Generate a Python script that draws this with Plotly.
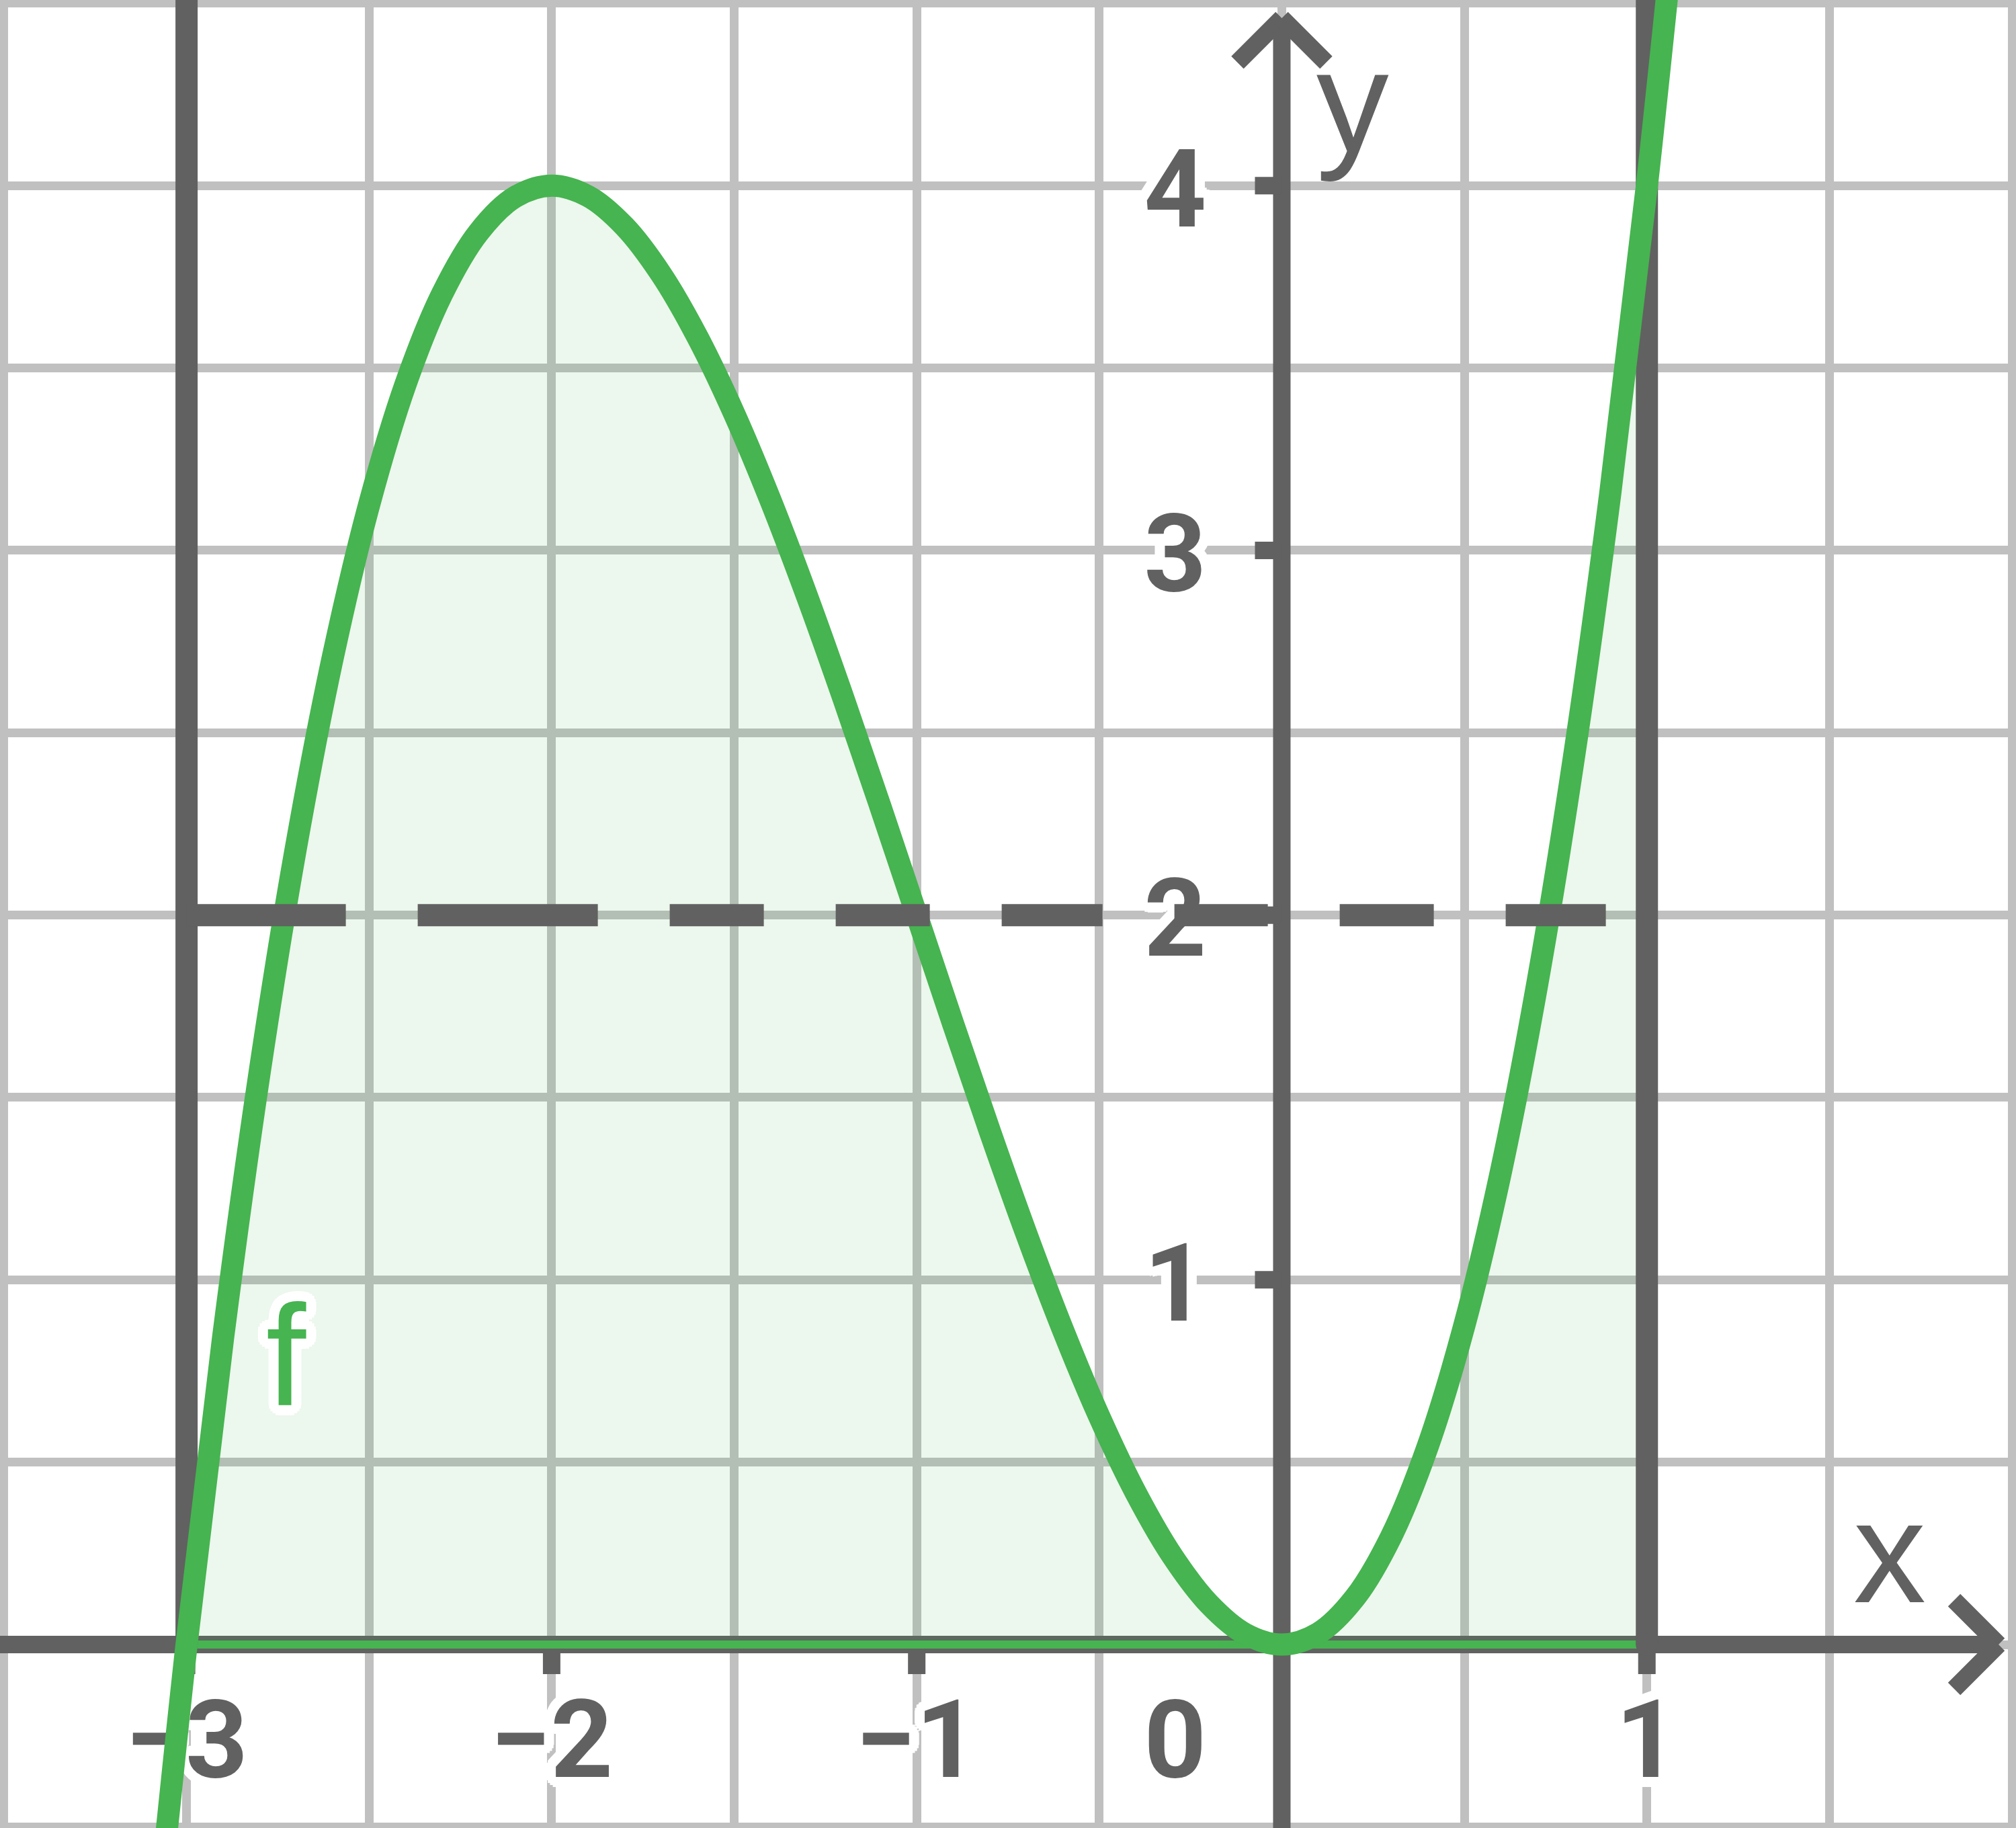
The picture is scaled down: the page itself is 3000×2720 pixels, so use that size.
import math
import plotly.graph_objects as go

# ---------------- data ----------------
CURVE_X = [-3.1, -3.0, -2.9, -2.8, -2.7, -2.6, -2.5, -2.4, -2.3, -2.2, -2.1,
           -2.0, -1.9, -1.8, -1.7, -1.6, -1.5, -1.4, -1.3, -1.2, -1.1,
           -1.0, -0.9, -0.8, -0.7, -0.6, -0.5, -0.4, -0.3, -0.2, -0.1,
           0.0, 0.1, 0.2, 0.3, 0.4, 0.5, 0.6, 0.7, 0.8, 0.9, 1.0, 1.1]
CURVE_Y = [-0.961, 0.0, 0.841, 1.568, 2.187, 2.704, 3.125, 3.456, 3.703, 3.872, 3.969,
           4.0, 3.971, 3.888, 3.757, 3.584, 3.375, 3.136, 2.873, 2.592, 2.299,
           2.0, 1.701, 1.408, 1.127, 0.864, 0.625, 0.416, 0.243, 0.112, 0.029,
           0.0, 0.031, 0.128, 0.297, 0.544, 0.875, 1.296, 1.813, 2.432, 3.159, 4.0, 4.961]
AREA_X_MIN = -3.0
AREA_X_MAX = 1.0
LEVEL_Y = 2.0
X_TICK_VALUES = [-3, -2, -1, 1]
X_LABEL_VALUES = [-3, -2, -1, 0, 1]
X_LABEL_TEXT = ["\u22123", "\u22122", "\u22121", "0", "1"]
Y_TICK_VALUES = [1, 2, 3, 4]
Y_LABEL_TEXT = ["1", "2", "3", "4"]
CURVE_NAME = "f"
X_RANGE = [-3.511, 2.011]
Y_RANGE = [-0.503, 4.509]
GRID_STEP = 0.5

# ---------------- style ----------------
W, H = 3000, 2720
PXX = W / (X_RANGE[1] - X_RANGE[0])
PXY = H / (Y_RANGE[1] - Y_RANGE[0])
DARK = "#616161"
GRID = "#c0c0c0"
GREEN = "#46b450"
FILL = "rgba(70,180,80,0.10)"
FONT = "Liberation Sans"
TICK_FONT = "Roboto"
TEXT_DROP_PX = 20


def halo(r_max, step=5, n=20, color="#ffffff"):
    parts = []
    r = step
    while r <= r_max + 0.01:
        for k in range(n):
            a = 2 * math.pi * k / n
            parts.append(f"{r*math.cos(a):.1f}px {r*math.sin(a):.1f}px 0 {color}")
        r += step
    return ", ".join(parts)


def dx(px):
    return px / PXX


def dy(px):
    return px / PXY


fig = go.Figure()

# tick labels (below everything else, over grid)
label_col_x = -0.292
drop = dy(TEXT_DROP_PX)
lx = [label_col_x if v == 0 else v for v in X_LABEL_VALUES]
fig.add_trace(go.Scatter(
    x=lx + [label_col_x] * len(Y_TICK_VALUES),
    y=[-0.252 - drop] * len(X_LABEL_VALUES) + [v - drop for v in Y_TICK_VALUES],
    mode="text", text=X_LABEL_TEXT + Y_LABEL_TEXT, textposition="middle center",
    textfont=dict(family=TICK_FONT, size=162, color=DARK, weight="bold", shadow=halo(18)),
    hoverinfo="skip", showlegend=False, cliponaxis=False))

# axes with arrows
x_tip = X_RANGE[1] - dx(26)
y_tip = Y_RANGE[1] - dy(27)
arm = 66
fig.add_trace(go.Scatter(
    x=[X_RANGE[0] - 0.1, x_tip, None, 0, 0],
    y=[0, 0, None, Y_RANGE[0] - 0.1, y_tip],
    mode="lines", line=dict(color=DARK, width=26), hoverinfo="skip", showlegend=False))
fig.add_trace(go.Scatter(
    x=[x_tip - dx(arm), x_tip, None, x_tip - dx(arm), x_tip, None,
       -dx(arm), 0, None, dx(arm), 0],
    y=[dy(arm), 0, None, -dy(arm), 0, None,
       y_tip - dy(arm), y_tip, None, y_tip - dy(arm), y_tip],
    mode="lines", line=dict(color=DARK, width=26), hoverinfo="skip", showlegend=False))

# tick marks
tx, ty = [], []
for v in X_TICK_VALUES:
    tx += [v, v, None]
    ty += [0, -dy(44), None]
for v in Y_TICK_VALUES:
    tx += [0, -dx(40), None]
    ty += [v, v, None]
fig.add_trace(go.Scatter(x=tx, y=ty, mode="lines", line=dict(color=DARK, width=26),
                         hoverinfo="skip", showlegend=False))

# shaded area under f between the bounds
ax = [x for x in CURVE_X if AREA_X_MIN <= x <= AREA_X_MAX]
ay = [y for x, y in zip(CURVE_X, CURVE_Y) if AREA_X_MIN <= x <= AREA_X_MAX]
fig.add_trace(go.Scatter(
    x=ax + [AREA_X_MAX, AREA_X_MIN], y=ay + [0, 0], mode="lines", fill="toself",
    fillcolor=FILL, line=dict(color=GREEN, width=12), hoverinfo="skip", showlegend=False))

# vertical bounds
top = Y_RANGE[1] + 0.2
fig.add_trace(go.Scatter(
    x=[AREA_X_MIN, AREA_X_MIN, None, AREA_X_MAX, AREA_X_MAX],
    y=[0, top, None, 0, top], mode="lines", line=dict(color=DARK, width=33),
    hoverinfo="skip", showlegend=False))
fig.add_trace(go.Scatter(
    x=[AREA_X_MIN, AREA_X_MAX], y=[0, 0], mode="markers",
    marker=dict(color=DARK, size=33, line=dict(width=0)), hoverinfo="skip", showlegend=False))

# curve f
fig.add_trace(go.Scatter(
    x=CURVE_X, y=CURVE_Y, mode="lines", line=dict(color=GREEN, width=33, shape="spline"),
    hoverinfo="skip", showlegend=False))

# dashed level line y = 2
dash = "237px,107px,268px,107px,140px,107px,140px,107px,150px,107px,139px,107px,140px,107px,149px,300px"
fig.add_trace(go.Scatter(
    x=[AREA_X_MIN, AREA_X_MAX], y=[LEVEL_Y, LEVEL_Y], mode="lines",
    line=dict(color=DARK, width=33, dash=dash), hoverinfo="skip", showlegend=False))

# axis names and function label
fig.add_trace(go.Scatter(
    x=[1.665, 0.194], y=[0.253 - drop, 4.231 - drop], mode="text", text=["x", "y"],
    textposition="middle center", textfont=dict(family=FONT, size=216, color=DARK),
    hoverinfo="skip", showlegend=False, cliponaxis=False))
fig.add_trace(go.Scatter(
    x=[-2.728], y=[0.791 - drop], mode="text", text=[CURVE_NAME], textposition="middle center",
    textfont=dict(family=FONT, size=214, color=GREEN, shadow=halo(19)),
    hoverinfo="skip", showlegend=False, cliponaxis=False))

axis_common = dict(showgrid=True, gridcolor=GRID, gridwidth=13, dtick=GRID_STEP, tick0=0,
                   showticklabels=False, zeroline=False, showline=False, ticks="",
                   fixedrange=True)
fig.update_layout(
    width=W, height=H, autosize=False,
    margin=dict(l=0, r=0, t=0, b=0, pad=0),
    paper_bgcolor="white", plot_bgcolor="white",
    xaxis=dict(range=X_RANGE, **axis_common),
    yaxis=dict(range=Y_RANGE, **axis_common),
    showlegend=False,
)

fig.write_html("out.html", config={"displayModeBar": False},
               post_script="document.body.style.margin='0';")
